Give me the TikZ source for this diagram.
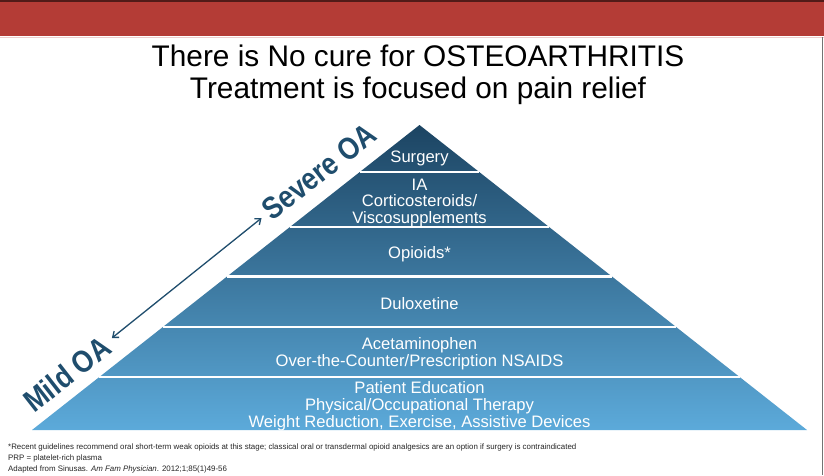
\documentclass[tikz,border=0pt]{standalone}
\usepackage{fontspec}
\setmainfont{Liberation Sans}
\newfontfamily\oafont[FakeStretch=0.86]{Liberation Sans}
\usetikzlibrary{calc,arrows.meta}
\definecolor{banner}{HTML}{B43C36}
\definecolor{navy}{HTML}{1F4D6D}
\definecolor{pyrtop}{HTML}{1C4462}
\definecolor{pyrbot}{HTML}{5CAADA}
\tikzset{
  layertext/.style={text=white, font=\fontsize{16.6}{16.8}\selectfont, align=center, inner sep=0pt},
  sepline/.style={white, line width=2.2pt},
  oalabel/.style={text=navy, font=\oafont\bfseries\fontsize{31}{31}\selectfont, rotate=38, inner sep=0pt},
  foot/.style={anchor=base west, font=\fontsize{7.9}{8}\selectfont, inner sep=0pt, text=black!85},
}
\begin{document}
\begin{tikzpicture}[x=1pt,y=-1pt]
\useasboundingbox (0,0) rectangle (824,475);
\fill[white] (0,0) rectangle (824,475);
% banner
\fill[banner] (0,0) rectangle (824,36);
\draw[line width=1.5pt, color=banner!45!black] (0,0.75) -- (824,0.75);
\draw[line width=1pt, color=banner!25] (0,37) -- (824,37);
\draw[line width=1.2pt, black!55] (822.5,37) -- (822.5,475);
% title
\node[font=\fontsize{29.8}{32}\selectfont, align=center, inner sep=0pt] (title) at (418,75)
  {There is No cure for OSTEOARTHRITIS\\Treatment is focused on pain relief};
% pyramid
\coordinate (A) at (419.5,125);
\coordinate (BL) at (32,430);
\coordinate (BR) at (807,430);
\shade[top color=pyrtop, bottom color=pyrbot] (A) -- (BL) -- (BR) -- cycle;
\foreach \t in {0.1541,0.3344,0.4967,0.6623,0.8262}{
  \draw[sepline] ($(A)!\t!(BL)$) -- ($(A)!\t!(BR)$);
}
\node[layertext] (surgery) at (419.5,158) {Surgery};
\node[layertext] (ia) at (419.5,203) {IA\\Corticosteroids/\\Viscosupplements};
\node[layertext] (opioids) at (419.5,254) {Opioids*};
\node[layertext] (dulox) at (419.5,304) {Duloxetine};
\node[layertext] (acet) at (419.5,353.5) {Acetaminophen\\Over-the-Counter/Prescription NSAIDS};
\node[layertext] (patient) at (419.5,406) {Patient Education\\Physical/Occupational Therapy\\Weight Reduction, Exercise, Assistive Devices};
% severity labels
\node[oalabel] (severe) at (319,172) {Severe OA};
\node[oalabel] (mild) at (67,374) {Mild OA};
\draw[navy, line width=1.3pt, shorten <=7pt, shorten >=6pt,
  {Straight Barb[length=5pt,width=8pt]}-{Straight Barb[length=5pt,width=8pt]}] (mild) -- (severe);
% footnotes
\node[foot] (fn1) at (8,449) {*Recent guidelines recommend oral short-term weak opioids at this stage; classical oral or transdermal opioid analgesics are an option if surgery is contraindicated};
\node[foot] (fn2) at (8,460) {PRP = platelet-rich plasma};
\node[foot] (fn3) at (8,471) {Adapted from Sinusas. \textit{Am Fam Physician}. 2012;1;85(1)49-56};
\end{tikzpicture}
\end{document}
